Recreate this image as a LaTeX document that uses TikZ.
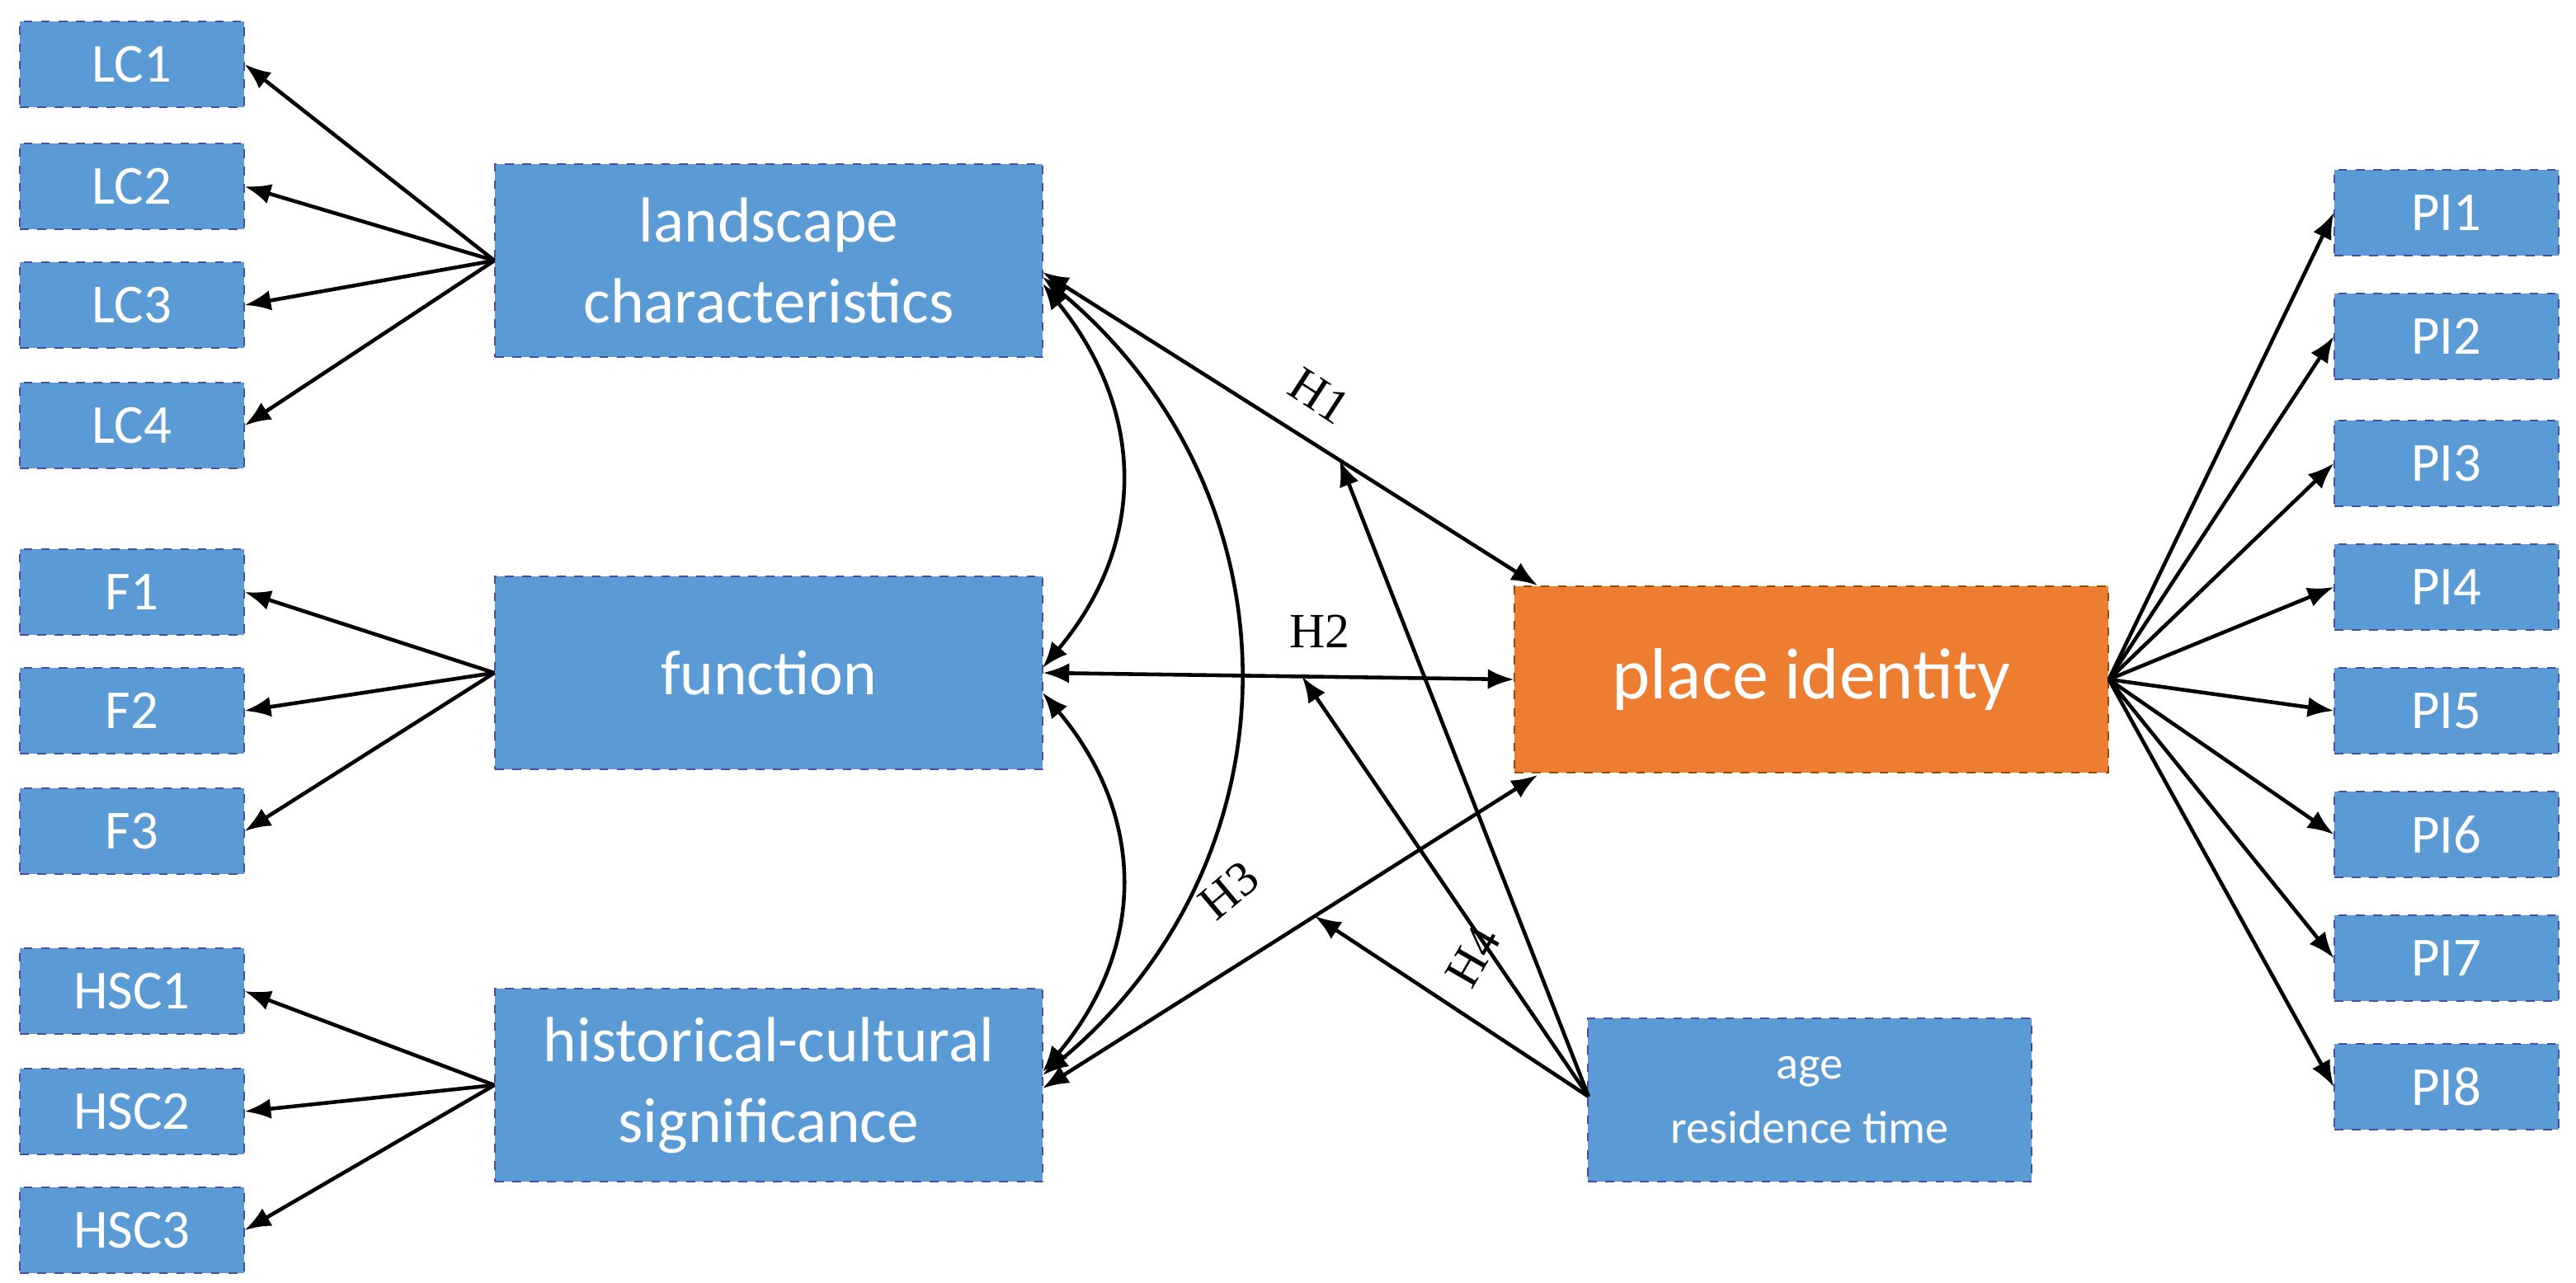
\documentclass[tikz,border=0pt]{standalone}
\usepackage{fontspec}
\usetikzlibrary{arrows.meta}
\setmainfont{Carlito}
\newfontfamily\lab{Liberation Serif}
\begin{document}
\begin{tikzpicture}[x=0.02cm,y=-0.02cm,
 box/.style={draw=blue!50!black!70,dashed,fill={rgb,255:red,91;green,155;blue,213},text=white,inner sep=0pt,align=center},
 sm/.style={box,minimum width=2.72cm,minimum height=1.04cm,font=\fontsize{19}{22}\selectfont},
 big/.style={box,minimum width=6.64cm,minimum height=2.34cm,font=\fontsize{22}{28}\selectfont},
 ar/.style={-{Latex[length=9pt,width=7pt]},line width=1.3pt},
 dar/.style={{Latex[length=9pt,width=7pt]}-{Latex[length=9pt,width=7pt]},line width=1.3pt},
 hl/.style={font=\lab\fontsize{17}{20}\selectfont}]
\useasboundingbox (0,0) rectangle (1561.5,778);
\foreach \n/\y in {LC1/39,LC2/113,LC3/185,LC4/258,F1/359,F2/431,F3/504,HSC1/601,HSC2/674,HSC3/746}
 \node[sm] (\n) at (80,\y) {\n};
\foreach \n/\y in {1/129,2/204,3/281,4/356,5/431,6/506,7/581,8/659}
 \node[sm] (PI\n) at (1483,\y) {PI\n};
\node[big] (lc) at (466,158) {landscape\\characteristics};
\node[big] (fn) at (466,408) {function};
\node[big] (hsc) at (466,658) {historical-cultural\\significance};
\node[box,draw=orange!60!black,fill={rgb,255:red,237;green,125;blue,49},minimum width=7.2cm,minimum height=2.26cm,font=\fontsize{25}{30}\selectfont] (pi) at (1098,412) {place identity};
\node[box,minimum width=5.38cm,minimum height=1.98cm,font=\fontsize{16}{22}\selectfont] (ag) at (1097,667) {age\\residence time};
\foreach \n in {LC1,LC2,LC3,LC4} \draw[ar] (lc.west) -- (\n.east);
\foreach \n in {F1,F2,F3} \draw[ar] (fn.west) -- (\n.east);
\foreach \n in {HSC1,HSC2,HSC3} \draw[ar] (hsc.west) -- (\n.east);
\foreach \n in {1,...,8} \draw[ar] (pi.east) -- (PI\n.west);
\coordinate (lcr) at (632,165);
\coordinate (pit) at (932,355);
\coordinate (pib) at (932,470);
\coordinate (hscr) at (632,660);
\draw[dar] (lcr) -- (pit) coordinate[pos=0.6] (m1);
\draw[dar] (fn.east) -- (pi.west) coordinate[pos=0.55] (m2);
\draw[dar] (hscr) -- (pib) coordinate[pos=0.55] (m3);
\draw[dar] (632,172) .. controls (695,250) and (695,330) .. (632,405);
\draw[dar] (632,420) .. controls (695,495) and (695,575) .. (632,650);
\draw[dar] (632,168) .. controls (790,300) and (790,520) .. (632,652);
\coordinate (ao) at (963,665);
\draw[ar] (ao) -- (m1);
\draw[ar] (ao) -- (m2);
\draw[ar] (ao) -- (m3);
\node[hl,rotate=-33] (h1) at (800,240) {H1};
\node[hl] (h2) at (800,383) {H2};
\node[hl,rotate=40] (h3) at (745,540) {H3};
\node[hl,rotate=60] (h4) at (893,580) {H4};
\end{tikzpicture}
\end{document}
